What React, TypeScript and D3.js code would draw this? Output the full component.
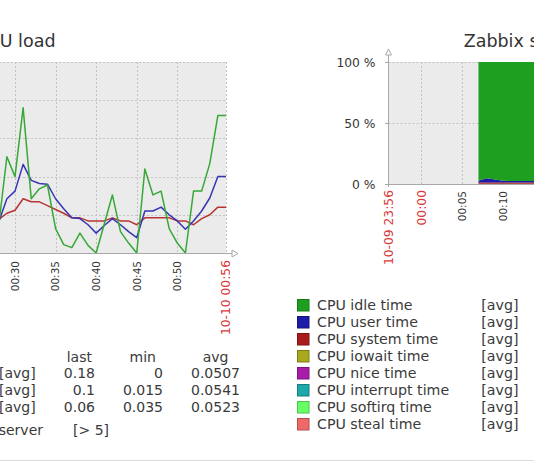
import * as d3 from "d3";

// Zabbix server: CPU load (minutes after 00:00)
const loadMinutes = [28, 29, 30, 31, 32, 33, 34, 35, 36, 37, 38, 39, 40, 41, 42, 43, 44, 45, 46, 47, 48, 49, 50, 51, 52, 53, 54, 55, 56];
const load1 = [0.037, 0.126, 0.1, 0.19, 0.071, 0.084, 0.089, 0.032, 0.011, 0.007, 0.026, 0.01, 0.0, 0.038, 0.076, 0.028, 0.013, 0.0, 0.11, 0.076, 0.081, 0.032, 0.013, 0.0, 0.081, 0.081, 0.117, 0.18, 0.18];
const load5 = [0.041, 0.071, 0.081, 0.116, 0.095, 0.091, 0.09, 0.071, 0.058, 0.046, 0.045, 0.037, 0.026, 0.036, 0.045, 0.037, 0.028, 0.02, 0.055, 0.055, 0.06, 0.05, 0.042, 0.031, 0.042, 0.055, 0.072, 0.1, 0.1];
const load15 = [0.044, 0.052, 0.056, 0.071, 0.067, 0.067, 0.062, 0.057, 0.052, 0.046, 0.046, 0.042, 0.042, 0.042, 0.046, 0.042, 0.042, 0.037, 0.046, 0.046, 0.046, 0.046, 0.042, 0.042, 0.037, 0.045, 0.05, 0.06, 0.06];
const loadNames = ["Processor load (1 min average per core)", "Processor load (5 min average per core)", "Processor load (15 min average per core)"];
const loadColors = ["#36a836", "#3636b4", "#b83434"];
const loadLast = ["0.18", "0.1", "0.06"];
const loadMin = ["0", "0.015", "0.035"];
const loadAvg = ["0.0507", "0.0541", "0.0523"];
const loadGrid = [0.05, 0.1, 0.15, 0.2, 0.25];

// Zabbix server: CPU utilization (%)
const cpuMinutes = [7, 8, 9, 10, 11, 12, 13, 14];
const cpuIdle = [97.3, 95.3, 96.3, 97.3, 97.6, 97.6, 97.6, 97.6];
const cpuUser = [1.5, 3.5, 2.5, 1.5, 1.2, 1.2, 1.2, 1.2];
const cpuSystem = [0.9, 0.9, 0.9, 0.9, 0.9, 0.9, 0.9, 0.9];
const cpuIowait = [0.3, 0.3, 0.3, 0.3, 0.3, 0.3, 0.3, 0.3];
const cpuNice = [0, 0, 0, 0, 0, 0, 0, 0];
const cpuInterrupt = [0, 0, 0, 0, 0, 0, 0, 0];
const cpuSoftirq = [0, 0, 0, 0, 0, 0, 0, 0];
const cpuSteal = [0, 0, 0, 0, 0, 0, 0, 0];
const cpuNames = ["CPU idle time", "CPU user time", "CPU system time", "CPU iowait time", "CPU nice time", "CPU interrupt time", "CPU softirq time", "CPU steal time"];
const cpuColors = ["#1f9f1f", "#1c1ca8", "#a81c1c", "#a8a81c", "#a81ca8", "#1ca8a8", "#66ff66", "#f06868"];
const pctTicks = [0, 50, 100];
const pctLabels = ["0 %", "50 %", "100 %"];

// time axis
const tickMinutes = [5, 10, 15, 20, 25, 30, 35, 40, 45, 50];
const tickLabels = ["00:05", "00:10", "00:15", "00:20", "00:25", "00:30", "00:35", "00:40", "00:45", "00:50"];
const redMinutes = [-4, 0, 56];
const redLabels = ["10-09 23:56", "00:00", "10-10 00:56"];

const W = 534;
const H = 462;
const FONT = "'DejaVu Sans', sans-serif";
const GRID = "#c2c2c2";
const AXIS = "#a8a8a8";
const TEXT = "#333";
const RED = "#d83a3a";

const App = () => {
  // left graph scales
  const xL = d3.scaleLinear().domain([-4, 56]).range([-260.9, 226]);
  const yL = d3.scaleLinear().domain([0, 0.25]).range([253, 62]);
  // right graph scales
  const xR = d3.scaleLinear().domain([-4, 56]).range([388.5, 879.3]);
  const yR = d3.scaleLinear().domain([0, 100]).range([184, 62]);

  const series = [load1, load5, load15];
  const line = d3
    .line<number>()
    .x((_, i) => xL(loadMinutes[i]))
    .y((d) => yL(d));

  const table = cpuMinutes.map((m, i) => ({
    minute: m,
    idle: cpuIdle[i],
    user: cpuUser[i],
    system: cpuSystem[i],
    iowait: cpuIowait[i],
    nice: cpuNice[i],
    interrupt: cpuInterrupt[i],
    softirq: cpuSoftirq[i],
    steal: cpuSteal[i],
  }));
  const keys = ["steal", "softirq", "interrupt", "nice", "iowait", "system", "user", "idle"];
  const keyColor: Record<string, string> = {
    idle: cpuColors[0],
    user: cpuColors[1],
    system: cpuColors[2],
    iowait: cpuColors[3],
    nice: cpuColors[4],
    interrupt: cpuColors[5],
    softirq: cpuColors[6],
    steal: cpuColors[7],
  };
  const stacked = d3.stack<any>().keys(keys)(table);
  const area = d3
    .area<any>()
    .x((d) => xR(d.data.minute))
    .y0((d) => yR(d[0]))
    .y1((d) => yR(d[1]));

  const timeLabels = (x: (v: number) => number, top: number) => (
    <g>
      {tickMinutes.map((m, i) => (
        <text
          key={"t" + m}
          transform={`translate(${x(m)},${top}) rotate(-90)`}
          textAnchor="end"
          dy="0.36em"
          fontSize={10.5}
          fill={TEXT}
        >
          {tickLabels[i]}
        </text>
      ))}
      {redMinutes.map((m, i) => (
        <text
          key={"r" + m}
          transform={`translate(${x(m)},${top - 1}) rotate(-90)`}
          textAnchor="end"
          dy="0.36em"
          fontSize={12.3}
          fill={RED}
        >
          {redLabels[i]}
        </text>
      ))}
    </g>
  );

  return (
    <div style={{ position: "absolute", left: 0, top: 0 }}>
      <svg width={W} height={H} fontFamily={FONT} style={{ display: "block", background: "#fff" }}>
        {/* ---------- left: CPU load ---------- */}
        <text x={55.5} y={47.3} textAnchor="end" fontSize={17.5} fill={TEXT}>
          Zabbix server: CPU load
        </text>
        <rect x={xL(-4)} y={yL(0.25)} width={xL(56) - xL(-4)} height={yL(0) - yL(0.25)} fill="#ebebeb" />
        {loadGrid.map((v) => (
          <line key={v} x1={xL(-4)} x2={xL(56)} y1={Math.round(yL(v)) + 0.5} y2={Math.round(yL(v)) + 0.5} stroke={GRID} strokeDasharray="2,2" />
        ))}
        {[...tickMinutes, 56].map((m) => (
          <line key={m} x1={Math.round(xL(m)) + 0.5} x2={Math.round(xL(m)) + 0.5} y1={yL(0.25)} y2={yL(0)} stroke={GRID} strokeDasharray="2,2" />
        ))}
        {series
          .slice()
          .reverse()
          .map((s, i) => (
            <path key={i} d={line(s) || ""} fill="none" stroke={loadColors[2 - i]} strokeWidth={1.5} strokeLinejoin="round" />
          ))}
        <line x1={xL(-4)} x2={232} y1={253.5} y2={253.5} stroke={AXIS} />
        <polygon points="232,250 238,253.5 232,257" fill="#fff" stroke={AXIS} />
        {timeLabels(xL, 261)}

        {/* legend */}
        <g fontSize={14} fill="#3a3a3a">
          <text x={92} y={361.5} textAnchor="end">last</text>
          <text x={156} y={361.5} textAnchor="end">min</text>
          <text x={228.5} y={361.5} textAnchor="end">avg</text>
          {loadNames.map((n, i) => (
            <g key={n}>
              <rect x={-100} y={367.3 + i * 16.7} width={11} height={11} fill={loadColors[i]} />
              <text x={-8} y={378.3 + i * 16.7} textAnchor="end">{n}</text>
              <text x={-1} y={378.3 + i * 16.7}>[avg]</text>
              <text x={95} y={378.3 + i * 16.7} textAnchor="end">{loadLast[i]}</text>
              <text x={163} y={378.3 + i * 16.7} textAnchor="end">{loadMin[i]}</text>
              <text x={240} y={378.3 + i * 16.7} textAnchor="end">{loadAvg[i]}</text>
            </g>
          ))}
          <text x={43} y={435} textAnchor="end">Trigger: Processor load is too high on Zabbix server</text>
          <text x={73} y={435}>[&gt; 5]</text>
        </g>

        {/* ---------- right: CPU utilization ---------- */}
        <text x={463.7} y={47.3} fontSize={17.5} fill={TEXT}>
          Zabbix server: CPU utilization
        </text>
        <rect x={xR(-4)} y={yR(100)} width={xR(56) - xR(-4)} height={yR(0) - yR(100)} fill="#ebebeb" />
        {pctTicks.slice(1).map((v) => (
          <line key={v} x1={xR(-4)} x2={xR(56)} y1={Math.round(yR(v)) + 0.5} y2={Math.round(yR(v)) + 0.5} stroke={GRID} strokeDasharray="2,2" />
        ))}
        {[0, ...tickMinutes].map((m) => (
          <line key={m} x1={Math.round(xR(m)) + 0.5} x2={Math.round(xR(m)) + 0.5} y1={yR(100)} y2={yR(0)} stroke={GRID} strokeDasharray="2,2" />
        ))}
        {stacked.map((s) => (
          <path key={s.key} d={area(s as any) || ""} fill={keyColor[s.key]} />
        ))}
        <line x1={385} x2={W + 400} y1={184.5} y2={184.5} stroke={AXIS} />
        <line x1={388.5} x2={388.5} y1={187} y2={55} stroke={AXIS} />
        <polygon points="385.5,55 388.5,49 391.5,55" fill="#fff" stroke={AXIS} />
        {pctTicks.map((v, i) => (
          <g key={v}>
            <line x1={385} x2={388.5} y1={Math.round(yR(v)) + 0.5} y2={Math.round(yR(v)) + 0.5} stroke={AXIS} />
            <text x={375.5} y={yR(v) + 4.7} textAnchor="end" fontSize={12.3} fill={TEXT}>
              {pctLabels[i]}
            </text>
          </g>
        ))}
        {timeLabels(xR, 191)}

        {/* legend */}
        <g fontSize={14.2} fill="#3a3a3a">
          {cpuNames.map((n, i) => (
            <g key={n}>
              <rect x={297.5} y={299.5 + i * 17} width={11.5} height={11.5} fill={cpuColors[i]} stroke={d3.color(cpuColors[i])!.darker(0.8).toString()} />
              <text x={317} y={310 + i * 17}>{n}</text>
              <text x={481.3} y={310 + i * 17}>[avg]</text>
            </g>
          ))}
        </g>

        <line x1={0} x2={W} y1={460.5} y2={460.5} stroke="#dcdcdc" />
      </svg>
    </div>
  );
};

export default App;
